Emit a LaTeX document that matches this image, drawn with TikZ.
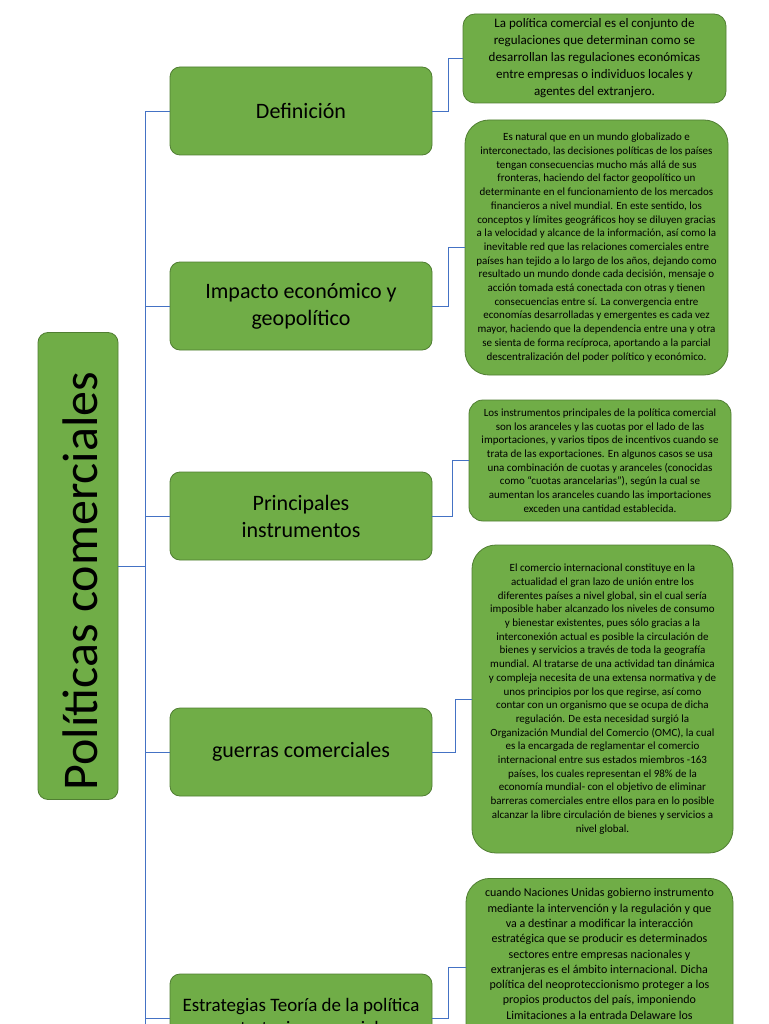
\documentclass[tikz,border=0pt]{standalone}
\usepackage{fontspec}
\setmainfont{Carlito}
\usetikzlibrary{calc}
\definecolor{gfill}{RGB}{112,173,71}
\definecolor{gedge}{RGB}{80,126,50}
\definecolor{lnk}{RGB}{68,114,196}
\begin{document}
\begin{tikzpicture}[x=1pt,y=-1pt,
  lbox/.style={draw=gedge,line width=0.8pt,fill=gfill,rounded corners=10pt,align=center,font=\fontsize{22}{27}\selectfont,inner sep=0pt},
  tbox/.style={draw=gedge,line width=0.8pt,fill=gfill,rounded corners=24pt,align=center,font=\fontsize{11}{13.7}\selectfont,inner sep=0pt},
  conn/.style={draw=lnk,line width=0.8pt}]
\clip (0,0) rectangle (768,1024);
\fill[white] (0,0) rectangle (768,1024);
% root
\node[lbox,minimum width=80,minimum height=467] (root) at (78,566) {};
\node[rotate=90,font=\fontsize{50}{55}\selectfont] (rootlbl) at (80,581) {Políticas comerciales};
% left boxes
\node[lbox,minimum width=262,minimum height=88] (def) at (301,111) {Definición};
\node[lbox,minimum width=262,minimum height=88] (imp) at (301,306) {Impacto económico y\\geopolítico};
\node[lbox,minimum width=262,minimum height=88] (pri) at (301,516) {Principales\\instrumentos};
\node[lbox,minimum width=262,minimum height=88] (gue) at (301,752) {guerras comerciales};
\node[lbox,minimum width=262,minimum height=88,font=\fontsize{19}{23}\selectfont] (est) at (301,1018) {Estrategias Teoría de la política\\estrategia comercial};
% right boxes
\node[tbox,minimum width=263,minimum height=89,rounded corners=12pt,font=\fontsize{13}{17}\selectfont] (tdef) at (594.5,58.5) {La política comercial es el conjunto de\\regulaciones que determinan como se\\desarrollan las regulaciones económicas\\entre empresas o individuos locales y\\agentes del extranjero.};
\node[tbox,minimum width=263,minimum height=255] (timp) at (596.5,247.5) {Es natural que en un mundo globalizado e\\interconectado, las decisiones políticas de los países\\tengan consecuencias mucho más allá de sus\\fronteras, haciendo del factor geopolítico un\\determinante en el funcionamiento de los mercados\\financieros a nivel mundial.  En este sentido, los\\conceptos y límites geográficos hoy se diluyen gracias\\a la velocidad y alcance de la información, así como la\\inevitable red que las relaciones comerciales entre\\países han tejido a lo largo de los años, dejando como\\resultado un mundo donde cada decisión, mensaje o\\acción tomada está conectada con otras y tienen\\consecuencias entre sí.  La convergencia entre\\economías desarrolladas y emergentes es cada vez\\mayor, haciendo que la dependencia entre una y otra\\se sienta de forma recíproca, aportando a la parcial\\descentralización del poder político y económico.};
\node[tbox,minimum width=262,minimum height=121,rounded corners=14pt] (tpri) at (600,460.5) {Los instrumentos principales de la política comercial\\son los aranceles y las cuotas por el lado de las\\importaciones, y varios tipos de incentivos cuando se\\trata de las exportaciones.  En algunos casos se usa\\una combinación de cuotas y aranceles (conocidas\\como “cuotas arancelarias”), según la cual se\\aumentan los aranceles cuando las importaciones\\exceden una cantidad establecida.};
\node[tbox,minimum width=261,minimum height=308] (tgue) at (602.5,699) {El comercio internacional constituye en la\\actualidad el gran lazo de unión entre los\\diferentes países a nivel global, sin el cual sería\\imposible haber alcanzado los niveles de consumo\\y bienestar existentes, pues sólo gracias a la\\interconexión actual es posible la circulación de\\bienes y servicios a través de toda la geografía\\mundial.  Al tratarse de una actividad tan dinámica\\y compleja necesita de una extensa normativa y de\\unos principios por los que regirse, así como\\contar con un organismo que se ocupa de dicha\\regulación.  De esta necesidad surgió la\\Organización Mundial del Comercio (OMC), la cual\\es la encargada de reglamentar el comercio\\internacional entre sus estados miembros -163\\países, los cuales representan el 98\% de la\\economía mundial- con el objetivo de eliminar\\barreras comerciales entre ellos para en lo posible\\alcanzar la libre circulación de bienes y servicios a\\nivel global.};
\node[tbox,minimum width=267,minimum height=200,anchor=north,font=\fontsize{12}{15.3}\selectfont,text depth=0pt] (test) at (599.5,878) {};
\node[anchor=north,align=center,font=\fontsize{12}{15.3}\selectfont] (testlbl) at (599.5,885) {cuando Naciones Unidas gobierno instrumento\\mediante la intervención y la regulación y que\\va a destinar a modificar la interacción\\estratégica que se producir es determinados\\sectores entre empresas nacionales y\\extranjeras es el ámbito internacional. Dicha\\política del neoproteccionismo proteger a los\\propios productos del país, imponiendo\\Limitaciones a la entrada Delaware los};
% connectors
\coordinate (trunkTop) at (145,111);
\coordinate (trunkBot) at (145,1024);
\draw[conn] (def.west) -- (trunkTop) -- (trunkBot);
\draw[conn] (root.east) -- (145,566);
\draw[conn] (imp.west) -- (145,306);
\draw[conn] (pri.west) -- (145,516);
\draw[conn] (gue.west) -- (145,752);
\draw[conn] (est.west) -- (145,1018);
\draw[conn] (def.east) -- (448,111) |- (tdef.west);
\draw[conn] (imp.east) -- (448,306) |- (timp.west);
\draw[conn] (pri.east) -- (452,516) |- (tpri.west);
\draw[conn] (gue.east) -- (455,752) |- (tgue.west);
\draw[conn] (est.east) -- (448,1018) |- (466,967);
\end{tikzpicture}
\end{document}
